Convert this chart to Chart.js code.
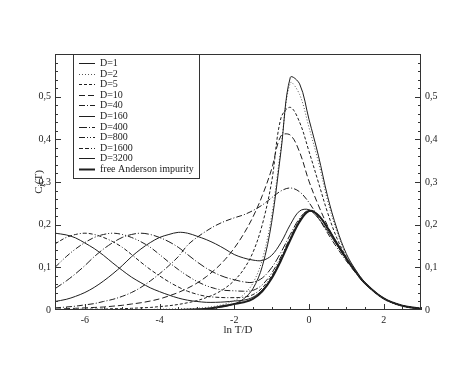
<!DOCTYPE html>
<html>
<head>
<meta charset="utf-8">
<script src="https://cdn.jsdelivr.net/npm/chart.js@4.4.0/dist/chart.umd.min.js"></script>
<style>
  html, body { margin: 0; padding: 0; background: #fff; }
</style>
</head>
<body>
<canvas id="myChart" width="474" height="366"></canvas>
<script>
// x values (ln T/D) shared by all curves
const lnTD = [-6.8, -6.5, -6.25, -6, -5.75, -5.5, -5.25, -5, -4.75, -4.5, -4.25, -4, -3.75, -3.5, -3.25,
  -3, -2.75, -2.5, -2.25, -2, -1.75, -1.5, -1.25, -1, -0.75, -0.5, -0.25,
  0, 0.25, 0.5, 0.75, 1, 1.25, 1.5, 2, 2.5, 3];

// C(T) for each bandwidth D ------------------------------------
const cD1 = [0, 0, 0, 0, 0, 0, 0, 0, 0, 0, 0.001, 0.001, 0.001, 0.001, 0.002,
  0.002, 0.003, 0.005, 0.008, 0.014, 0.026, 0.050, 0.102, 0.205, 0.372, 0.545, 0.530,
  0.447, 0.363, 0.266, 0.190, 0.132, 0.094, 0.065, 0.028, 0.010, 0.003];
const cD2 = [0, 0, 0, 0, 0, 0, 0, 0.001, 0.001, 0.001, 0.001, 0.002, 0.002, 0.003, 0.003,
  0.004, 0.006, 0.009, 0.014, 0.022, 0.036, 0.063, 0.118, 0.220, 0.380, 0.532, 0.505,
  0.428, 0.348, 0.256, 0.183, 0.128, 0.092, 0.064, 0.027, 0.010, 0.003];
const cD5 = [0.001, 0.001, 0.001, 0.002, 0.002, 0.002, 0.003, 0.003, 0.004, 0.005, 0.006, 0.008, 0.010, 0.013, 0.017,
  0.022, 0.029, 0.038, 0.051, 0.069, 0.095, 0.135, 0.200, 0.300, 0.450, 0.475, 0.440,
  0.372, 0.300, 0.228, 0.168, 0.124, 0.091, 0.063, 0.027, 0.010, 0.003];
const cD10 = [0.002, 0.003, 0.004, 0.005, 0.006, 0.007, 0.009, 0.011, 0.014, 0.017, 0.021, 0.026, 0.033, 0.041, 0.051,
  0.063, 0.078, 0.096, 0.118, 0.145, 0.178, 0.218, 0.268, 0.330, 0.408, 0.410, 0.370,
  0.302, 0.246, 0.197, 0.154, 0.119, 0.089, 0.062, 0.027, 0.010, 0.003];
const cD40 = [0.005, 0.007, 0.009, 0.012, 0.015, 0.020, 0.025, 0.032, 0.041, 0.053, 0.068, 0.085, 0.104, 0.125, 0.152,
  0.170, 0.185, 0.198, 0.208, 0.216, 0.223, 0.233, 0.246, 0.263, 0.279, 0.286, 0.277,
  0.252, 0.217, 0.180, 0.146, 0.115, 0.087, 0.061, 0.027, 0.010, 0.003];
const cD160 = [0.020, 0.025, 0.032, 0.041, 0.053, 0.068, 0.085, 0.104, 0.125, 0.143, 0.158, 0.170, 0.177, 0.182, 0.180,
  0.173, 0.165, 0.155, 0.143, 0.130, 0.122, 0.117, 0.116, 0.128, 0.158, 0.200, 0.232,
  0.235, 0.215, 0.185, 0.152, 0.119, 0.089, 0.062, 0.027, 0.010, 0.003];
const cD400 = [0.050, 0.068, 0.085, 0.104, 0.125, 0.143, 0.158, 0.170, 0.177, 0.180, 0.177, 0.170, 0.160, 0.147, 0.130,
  0.113, 0.098, 0.086, 0.077, 0.071, 0.066, 0.065, 0.075, 0.099, 0.135, 0.177, 0.215,
  0.234, 0.223, 0.192, 0.156, 0.121, 0.090, 0.063, 0.027, 0.010, 0.003];
const cD800 = [0.100, 0.125, 0.143, 0.158, 0.170, 0.177, 0.180, 0.177, 0.170, 0.160, 0.147, 0.130, 0.112, 0.095, 0.080,
  0.067, 0.057, 0.050, 0.046, 0.045, 0.044, 0.046, 0.059, 0.086, 0.125, 0.170, 0.211,
  0.233, 0.222, 0.192, 0.156, 0.121, 0.090, 0.063, 0.027, 0.010, 0.003];
const cD1600 = [0.155, 0.170, 0.177, 0.180, 0.177, 0.170, 0.160, 0.147, 0.130, 0.112, 0.095, 0.080, 0.066, 0.054, 0.044,
  0.037, 0.032, 0.030, 0.029, 0.029, 0.030, 0.036, 0.052, 0.080, 0.120, 0.167, 0.209,
  0.232, 0.222, 0.192, 0.156, 0.121, 0.090, 0.063, 0.027, 0.010, 0.003];
const cD3200 = [0.180, 0.176, 0.169, 0.157, 0.144, 0.128, 0.110, 0.093, 0.077, 0.064, 0.052, 0.043, 0.035, 0.028, 0.023,
  0.020, 0.018, 0.018, 0.019, 0.021, 0.023, 0.030, 0.047, 0.076, 0.118, 0.166, 0.208,
  0.232, 0.222, 0.192, 0.156, 0.121, 0.090, 0.063, 0.027, 0.010, 0.003];
const cFree = [0, 0, 0, 0, 0, 0, 0, 0, 0, 0, 0, 0, 0, 0, 0,
  0.001, 0.003, 0.006, 0.010, 0.014, 0.018, 0.026, 0.044, 0.074, 0.116, 0.164, 0.207,
  0.232, 0.222, 0.192, 0.156, 0.121, 0.090, 0.063, 0.027, 0.010, 0.003];

const seriesLabels = ["D=1", "D=2", "D=5", "D=10", "D=40", "D=160", "D=400", "D=800", "D=1600", "D=3200", "free Anderson impurity"];
const xTicks = [-6, -4, -2, 0, 2];
const yTicks = [0, 0.1, 0.2, 0.3, 0.4, 0.5];

const FONT = "'Liberation Serif', 'Times New Roman', serif";
const INK = "#222";

// line styles per curve
const dashes = [[], [1, 2], [3, 2], [6, 3], [6, 2, 1, 2], [], [8, 2, 1, 2], [6, 2, 1, 2, 1, 2], [4, 2, 4, 2, 1, 2], [], []];
const allSeries = [cD1, cD2, cD5, cD10, cD40, cD160, cD400, cD800, cD1600, cD3200, cFree];

const datasets = allSeries.map((vals, i) => ({
  label: seriesLabels[i],
  data: lnTD.map((x, k) => ({ x: x, y: vals[k] })),
  borderColor: i === 1 ? "#555" : "#1e1e1e",
  borderWidth: i === 10 ? 2 : 1,
  borderDash: dashes[i],
  pointRadius: 0,
  fill: false,
  tension: 0.35,
}));

// Frame + inward ticks ----------------------------------- { plugin }
const frameTicks = {
  id: "frameTicks",
  afterDatasetsDraw(chart) {
    const { ctx, chartArea: a, scales } = chart;
    ctx.save();
    ctx.strokeStyle = "#333";
    ctx.lineWidth = 1;
    ctx.setLineDash([]);
    ctx.strokeRect(a.left + 0.5, a.top + 0.5, a.right - a.left - 1, a.bottom - a.top - 1);
    ctx.beginPath();
    // x ticks every 0.5, majors every 2
    for (let k = -13; k <= 6; k++) {
      const v = k * 0.5;
      const px = Math.round(scales.x.getPixelForValue(v)) + 0.5;
      const len = v % 2 === 0 ? 6 : 3;
      ctx.moveTo(px, a.bottom);
      ctx.lineTo(px, a.bottom - len);
    }
    // y ticks every 0.02, majors every 0.1
    for (let k = 1; k < 30; k++) {
      const py = Math.round(scales.y.getPixelForValue(k * 0.02)) + 0.5;
      const len = k % 5 === 0 ? 6 : 3;
      ctx.moveTo(a.left, py);
      ctx.lineTo(a.left + len, py);
      ctx.moveTo(a.right, py);
      ctx.lineTo(a.right - len, py);
    }
    ctx.stroke();

    // y axis title C_i(T), rotated
    ctx.translate(39, (a.top + a.bottom) / 2);
    ctx.rotate(-Math.PI / 2);
    ctx.fillStyle = INK;
    ctx.textBaseline = "middle";
    ctx.font = "11px " + FONT;
    const w1 = ctx.measureText("C").width;
    ctx.font = "8px " + FONT;
    const w2 = ctx.measureText("i").width;
    ctx.font = "11px " + FONT;
    const w3 = ctx.measureText("(T)").width;
    let sx = -(w1 + w2 + w3) / 2;
    ctx.fillText("C", sx, 0);
    ctx.font = "8px " + FONT;
    ctx.fillText("i", sx + w1, 3);
    ctx.font = "11px " + FONT;
    ctx.fillText("(T)", sx + w1 + w2, 0);
    ctx.restore();
  },
};

// Legend box in the top-left corner ---------------------- { plugin }
const legendBox = {
  id: "legendBox",
  afterDatasetsDraw(chart) {
    const { ctx, chartArea: a } = chart;
    const bx = a.left + 18, by = a.top, bw = 126, bh = 124;
    ctx.save();
    ctx.fillStyle = "#fff";
    ctx.fillRect(bx, by, bw, bh);
    ctx.strokeStyle = "#333";
    ctx.lineWidth = 1;
    ctx.strokeRect(bx + 0.5, by + 0.5, bw, bh);
    ctx.font = "10px " + FONT;
    ctx.textBaseline = "middle";
    chart.data.datasets.forEach((ds, i) => {
      const yy = Math.round(by + 9 + i * 10.6) + 0.5;
      ctx.setLineDash(ds.borderDash);
      ctx.lineWidth = ds.borderWidth;
      ctx.strokeStyle = ds.borderColor;
      ctx.beginPath();
      ctx.moveTo(bx + 6, yy);
      ctx.lineTo(bx + 22, yy);
      ctx.stroke();
      ctx.setLineDash([]);
      ctx.fillStyle = INK;
      ctx.fillText(ds.label, bx + 27, yy);
    });
    ctx.restore();
  },
};

const yTickLabel = (v) => (v === 0 ? "0" : v.toFixed(1).replace(".", ","));

const ctx = document.getElementById("myChart").getContext("2d");
const myChart = new Chart(ctx, {
  type: "line",
  data: { datasets: datasets },
  options: {
    responsive: false,
    animation: false,
    devicePixelRatio: 1,
    events: [],
    layout: { padding: { top: 54, left: 0, right: 0, bottom: 0 } },
    plugins: {
      legend: { display: false },
      tooltip: { enabled: false },
    },
    scales: {
      x: {
        type: "linear",
        min: -6.8,
        max: 3,
        afterBuildTicks: (s) => { s.ticks = xTicks.map((v) => ({ value: v })); },
        afterFit: (s) => { s.height = 56; },
        grid: { display: false, drawTicks: false },
        border: { display: false },
        ticks: { padding: 4, color: INK, font: { family: FONT, size: 10 }, maxRotation: 0, callback: (v) => String(v) },
        title: { display: true, text: "ln T/D", color: INK, font: { family: FONT, size: 11 }, padding: { top: 0, bottom: 29 } },
      },
      y: {
        position: "left",
        min: 0,
        max: 0.6,
        afterBuildTicks: (s) => { s.ticks = yTicks.map((v) => ({ value: v })); },
        afterFit: (s) => { s.width = 55; },
        grid: { display: false, drawTicks: false },
        border: { display: false },
        ticks: { padding: 4, color: INK, font: { family: FONT, size: 10 }, callback: yTickLabel },
      },
      y2: {
        position: "right",
        min: 0,
        max: 0.6,
        afterBuildTicks: (s) => { s.ticks = yTicks.map((v) => ({ value: v })); },
        afterFit: (s) => { s.width = 53; },
        grid: { display: false, drawTicks: false },
        border: { display: false },
        ticks: { padding: 4, color: INK, font: { family: FONT, size: 10 }, callback: yTickLabel },
      },
    },
  },
  plugins: [frameTicks, legendBox],
});
</script>
</body>
</html>
